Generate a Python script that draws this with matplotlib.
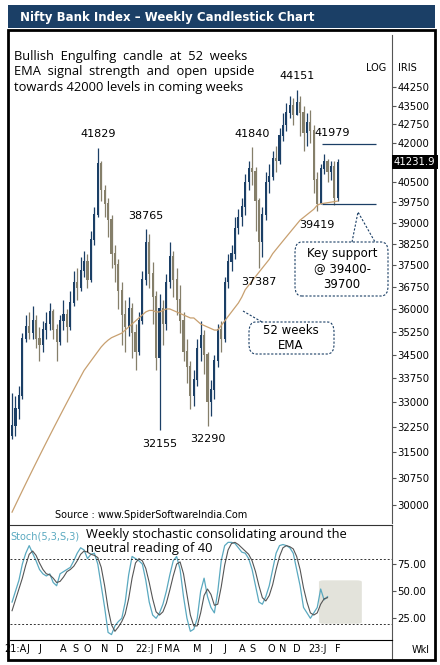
import numpy as np
import matplotlib.pyplot as plt
from matplotlib.patches import Rectangle, FancyBboxPatch

# Weekly closes, highs, lows (Apr 2021 - Feb 2023)
closes = [32300, 32800, 33200, 35000, 35400, 35200, 35600, 35000, 34800, 35300,
          35500, 35900, 35300, 34900, 35600, 35800, 35400, 36200, 36900, 36700,
          37300, 37600, 37000, 38400, 39300, 41200, 40200, 39700, 39100, 37900,
          37500, 36600, 35800, 35400, 36000, 35200, 34600, 35600, 37000, 38300,
          37200, 36400, 34400, 36000, 35500, 36900, 37800, 37000, 36300, 35600,
          34600, 34100, 33200, 33700, 34700, 35100, 34500, 33000, 33400, 34300,
          35300, 35000, 36900, 37600, 37900, 38800, 39200, 39600, 40500, 41000,
          40900, 39800, 38300, 39300, 40500, 40700, 41400, 41300, 42300, 42700,
          43200, 43500, 43100, 43600, 43200, 42400, 42800, 42500, 40600, 39700,
          41000, 41300, 40900, 41100, 39900, 41232]
highs = [33300, 33200, 33500, 35200, 35800, 35900, 36100, 35800, 35400, 35600,
         35900, 36200, 36000, 35500, 35800, 36300, 36000, 36600, 37300, 37400,
         37800, 38000, 37900, 38700, 39600, 41829, 41300, 40400, 39900, 39300,
         38200, 37700, 36900, 36300, 36400, 36200, 35500, 35900, 37300, 38765,
         38600, 37600, 36600, 36500, 36300, 37200, 38300, 38000, 37400, 36800,
         35900, 35000, 34300, 34000, 35000, 35600, 35300, 34600, 33700, 34500,
         35500, 35600, 37100, 37900, 38200, 39200, 39500, 39900, 40800, 41300,
         41840, 41100, 39900, 39600, 40900, 41200, 41700, 41900, 42600, 43200,
         43600, 43900, 43800, 44151, 43900, 43500, 43200, 43300, 42700, 40900,
         41200, 41600, 41400, 41300, 41300, 41400]
lows = [31900, 32000, 32500, 33100, 34900, 35000, 35000, 34700, 34300, 34600,
        35000, 35300, 35000, 34300, 34800, 35300, 34900, 35300, 36100, 36300,
        36600, 37100, 36700, 36900, 38200, 39200, 39800, 39200, 38500, 37400,
        36900, 36000, 34800, 34600, 35100, 34400, 34000, 34500, 35500, 36800,
        36700, 35500, 34000, 32155, 34800, 35300, 36700, 36400, 35800, 35200,
        34300, 33600, 32800, 32900, 33500, 34300, 33900, 32290, 32600, 33100,
        34100, 34600, 34900, 36700, 37300, 37700, 38600, 38900, 39300, 40200,
        40400, 38700, 37387, 37800, 39100, 40100, 40600, 40900, 41200, 42100,
        42500, 43000, 42700, 43100, 42300, 41700, 41900, 42000, 40100, 39419,
        39700, 40800, 40500, 40600, 39650, 39800]
first_open = 32000
ema52 = [29800, 30000, 30200, 30400, 30600, 30800, 31000, 31200, 31400, 31600,
         31800, 32000, 32200, 32400, 32600, 32800, 33000, 33200, 33400, 33600,
         33800, 34000, 34150, 34300, 34450, 34600, 34750, 34870,
         34970, 35050, 35100, 35150, 35200, 35300, 35400, 35500, 35600, 35700, 35800, 35900, 35950, 35950,
         35900, 35900, 35950, 36000, 36000, 35950, 35900, 35850, 35800, 35750, 35700, 35700,
         35600, 35500, 35450, 35400, 35350, 35300, 35300,
         35450, 35600, 35750, 35900, 36050, 36200, 36400, 36650,
         36800, 36950, 37100, 37250, 37400, 37550, 37700, 37900,
         38050, 38200, 38350, 38500, 38650, 38800, 38950, 39100, 39200, 39300, 39400, 39500, 39650,
         39700, 39720, 39740, 39760, 39780, 39800]
stoch_k = [40, 50, 60, 75, 85, 92, 85, 78, 70, 66, 64, 66, 58, 55, 66, 68, 70, 72, 78, 85,
           90, 88, 80, 84, 85, 75, 55, 35, 12, 10, 18, 22, 25, 40, 65, 82, 80, 78, 75, 60,
           40, 28, 25, 30, 38, 50, 65, 78, 82, 70, 45, 25, 13, 15, 25, 50, 62, 45, 35, 30,
           50, 78, 92, 95, 95, 94, 90, 86, 85, 80, 70, 55, 40, 38, 45, 55, 70, 85, 92, 93,
           92, 90, 85, 70, 55, 35, 30, 25, 30, 35, 52, 42, 45]
stoch_d = [32, 42, 52, 62, 74, 84, 87, 83, 76, 70, 66, 65, 62, 58, 59, 63, 68, 70, 73, 78,
           84, 87, 86, 84, 83, 81, 72, 55, 34, 19, 13, 17, 22, 29, 43, 62, 76, 80, 78, 71,
           58, 43, 31, 28, 31, 39, 51, 64, 75, 77, 66, 47, 28, 18, 18, 30, 46, 52, 47, 37,
           38, 54, 74, 88, 94, 95, 93, 90, 87, 84, 78, 68, 55, 44, 41, 46, 56, 70, 82, 90,
           92, 91, 89, 82, 70, 53, 40, 30, 28, 30, 38, 43, 44]
price_ticks = [44250, 43500, 42750, 42000, 40500, 39750, 39000, 38250, 37500, 36750,
               36000, 35250, 34500, 33750, 33000, 32250, 31500, 30750, 30000]
month_labels = ['21:A', 'J', 'J', 'A', 'S', 'O', 'N', 'D', '22:J', 'F', 'M', 'A',
                'M', 'J', 'J', 'A', 'S', 'O', 'N', 'D', '23:J', 'F']
month_pos = [1, 4.5, 8, 15, 18.5, 22, 27, 31.5, 38.5, 43, 45.5, 48, 54, 58, 62,
             67, 70, 75.5, 79, 83, 89, 95]
peak_labels = [(25, 41829, 'above'), (39, 38765, 'above'), (43, 32155, 'below'),
               (57, 32290, 'below'), (70, 41840, 'above'), (72, 37387, 'below'),
               (83, 44151, 'above'), (89, 39419, 'below')]

W, H = 440, 665
navy = '#1b3f66'
bear = '#857f6a'

def fx(px):
    return px / W

def fy(py):
    return 1 - py / H

fig = plt.figure(figsize=(4.4, 6.65), dpi=100)
fig.patch.set_facecolor('white')

# title bar
fig.patches.append(Rectangle((fx(8), fy(28)), fx(427), 23 / H, transform=fig.transFigure,
                             facecolor=navy, edgecolor='none'))
fig.text(fx(20), fy(17), 'Nifty Bank Index \u2013 Weekly Candlestick Chart', color='white',
         fontsize=8.5, fontweight='bold', va='center', family='Liberation Sans Narrow')

n = len(closes)
idx = np.arange(n)
opens = np.array([first_open] + closes[:-1])
cl = np.array(closes)
up = cl >= opens
cols = np.where(up, navy, bear)
xlim = (-0.6, 110.8)

ax = fig.add_axes([fx(10), fy(523), fx(382), 488 / H])
ax.set_yscale('log')
ax.vlines(idx, lows, highs, colors=cols, linewidth=0.9)
ax.bar(idx, np.abs(cl - opens) + 30, bottom=np.minimum(cl, opens), width=0.62, color=cols)
ax.plot(idx, ema52, color='#c8a070', linewidth=0.9)
ax.set_xlim(*xlim)
ax.set_ylim(29500, 46450)
ax.yaxis.tick_right()
ax.set_yticks(price_ticks)
ax.set_yticklabels([str(t) for t in price_ticks], fontsize=7.3)
ax.yaxis.set_minor_locator(plt.NullLocator())
ax.tick_params(axis='y', length=3, pad=1, color='#555555')
ax.set_xticks([])
for s in ['left', 'top', 'bottom']:
    ax.spines[s].set_visible(False)
ax.spines['right'].set_color('#555555')

for i, v, pos in peak_labels:
    ax.annotate(str(v), (i, v), xytext=(0, 6 if pos == 'above' else -6), textcoords='offset points',
                ha='center', va='bottom' if pos == 'above' else 'top', fontsize=8)
ax.annotate('41979', (93.5, 42000), xytext=(0, 4), textcoords='offset points', ha='center',
            va='bottom', fontsize=8)
ax.hlines([41979, 39700], 90.5, 106, color=navy, linewidth=0.9)

ax.text(0.01, 0.97, 'Bullish  Engulfing  candle  at  52  weeks\nEMA  signal  strength  and  open  upside\n'
        'towards 42000 levels in coming weeks', transform=ax.transAxes, fontsize=9.3,
        va='top', ha='left', linespacing=1.25, family='Open Sans')
fig.text(fx(386), fy(68), 'LOG', fontsize=7, ha='right', va='center')
fig.text(fx(398), fy(68), 'IRIS', fontsize=7, ha='left', va='center')
fig.text(fx(394), fy(162), '41231.9', fontsize=7.3, color='white', va='center',
         bbox=dict(boxstyle='square,pad=0.2', facecolor='black', edgecolor='none'))

# callout boxes
box1 = FancyBboxPatch((fx(295), fy(296)), fx(93), 54 / H, boxstyle='round,pad=0,rounding_size=0.015',
                      transform=fig.transFigure, facecolor='white', edgecolor=navy,
                      linestyle=(0, (2, 1.5)), linewidth=0.8)
fig.patches.append(box1)
fig.lines.append(plt.Line2D([fx(352), fx(358), fx(375)], [fy(242), fy(212), fy(242)],
                            transform=fig.transFigure, color=navy, linestyle=(0, (2, 1.5)), linewidth=0.8))
fig.text(fx(342), fy(269), 'Key support\n@ 39400-\n39700', fontsize=8.5, ha='center', va='center',
         linespacing=1.25)
box2 = FancyBboxPatch((fx(249), fy(354)), fx(85), 32 / H, boxstyle='round,pad=0,rounding_size=0.015',
                      transform=fig.transFigure, facecolor='white', edgecolor=navy,
                      linestyle=(0, (2, 1.5)), linewidth=0.8)
fig.patches.append(box2)
fig.lines.append(plt.Line2D([fx(243), fx(262)], [fy(311), fy(322)],
                            transform=fig.transFigure, color=navy, linestyle=(0, (2, 1.5)), linewidth=0.8))
fig.text(fx(291), fy(338), '52 weeks\nEMA', fontsize=8.5, ha='center', va='center', linespacing=1.25)

fig.text(fx(55), fy(515), 'Source : www.SpiderSoftwareIndia.Com', fontsize=7, va='center')

# stochastic panel
ax2 = fig.add_axes([fx(10), fy(640), fx(382), 115 / H])
ax2.plot(np.arange(len(stoch_k)), stoch_k, color='#5aa9c0', linewidth=0.9)
ax2.plot(np.arange(len(stoch_d)), stoch_d, color='#555555', linewidth=0.8)
ax2.axhline(80, color='#333333', linestyle=(0, (2, 2)), linewidth=0.7)
ax2.axhline(20, color='#333333', linestyle=(0, (2, 2)), linewidth=0.7)
ax2.set_xlim(*xlim)
ax2.set_ylim(5, 111)
ax2.yaxis.tick_right()
ax2.set_yticks([75, 50, 25])
ax2.set_yticklabels(['75.00', '50.00', '25.00'], fontsize=7.3)
ax2.tick_params(axis='y', length=3, pad=1, color='#555555')
ax2.set_xticks([])
for s in ['left', 'right', 'bottom']:
    ax2.spines[s].set_visible(s == 'right')
ax2.spines['right'].set_color('#555555')
ax2.spines['top'].set_color('#333333')
ax2.add_patch(FancyBboxPatch((89.5, 20), 12.5, 40, boxstyle='round,pad=0,rounding_size=1.5',
                             facecolor='#dcdcd2', edgecolor='none', alpha=0.8, zorder=0))
ax2.text(0.0, 0.9, 'Stoch(5,3,S,3)', transform=ax2.transAxes, color='#5aa9c0', fontsize=7,
         va='center', family='Liberation Sans Narrow')
ax2.text(0.2, 0.97, 'Weekly stochastic consolidating around the\nneutral reading of 40',
         transform=ax2.transAxes, fontsize=9.3, va='top', family='Open Sans', linespacing=1.1)

# date strip
ax3 = fig.add_axes([fx(10), fy(659), fx(382), 19 / H])
ax3.set_xlim(*xlim)
ax3.set_ylim(0, 1)
ax3.set_yticks([])
ax3.set_xticks([])
for p, lab in zip(month_pos, month_labels):
    ax3.text(p, 0.5, lab, fontsize=7, ha='center', va='center')
for s in ['left', 'bottom']:
    ax3.spines[s].set_visible(False)
ax3.spines['right'].set_color('#555555')
fig.text(fx(430), fy(650), 'Wkl', fontsize=7, ha='right', va='center')

# outer frame
fig.patches.append(Rectangle((fx(8), fy(660)), fx(427), 630 / H, transform=fig.transFigure,
                             facecolor='none', edgecolor='black', linewidth=2))

fig.savefig('out.png', dpi=100)
